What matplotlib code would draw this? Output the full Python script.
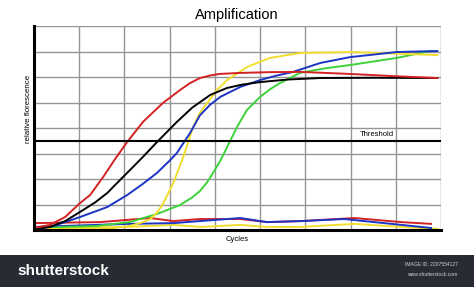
import matplotlib.pyplot as plt
from matplotlib.patches import Rectangle

plt.rcParams['font.family'] = ['Liberation Sans', 'DejaVu Sans']

# amplification curves (x in cycles grid units, y in fluorescence grid units)
red_x = [0, 0.35, 0.69, 1.02, 1.24, 1.53, 1.8, 2.06, 2.41, 2.85, 3.23, 3.45, 3.67, 3.9, 4.1, 4.56, 5.2, 5.88, 6.99, 8.0, 8.92]
red_y = [0.08, 0.2, 0.51, 1.06, 1.37, 2.08, 2.8, 3.45, 4.24, 4.98, 5.49, 5.76, 5.96, 6.06, 6.12, 6.16, 6.19, 6.2, 6.12, 6.03, 5.96]

black_x = [0, 0.35, 0.69, 1.02, 1.35, 1.62, 1.79, 2.06, 2.4, 2.72, 3.16, 3.5, 3.9, 4.27, 4.6, 5.0, 5.6, 6.33, 7.5, 8.92]
black_y = [0.04, 0.12, 0.35, 0.71, 1.08, 1.45, 1.76, 2.24, 2.85, 3.45, 4.24, 4.8, 5.3, 5.57, 5.7, 5.8, 5.9, 5.96, 5.97, 5.96]

blue_x = [0, 0.35, 0.69, 1.02, 1.62, 2.06, 2.4, 2.72, 3.0, 3.16, 3.3, 3.45, 3.67, 3.9, 4.12, 4.56, 5.0, 5.35, 5.73, 6.33, 6.99, 8.03, 8.92]
blue_y = [0.04, 0.12, 0.31, 0.51, 0.9, 1.37, 1.8, 2.24, 2.72, 3.02, 3.4, 3.8, 4.5, 4.92, 5.22, 5.61, 5.88, 6.05, 6.2, 6.55, 6.78, 6.98, 7.02]

yellow_x = [0, 1.02, 1.75, 2.12, 2.4, 2.57, 2.72, 2.85, 3.08, 3.3, 3.52, 3.67, 3.83, 4.05, 4.27, 4.71, 5.22, 5.88, 6.99, 8.92]
yellow_y = [0.04, 0.04, 0.08, 0.16, 0.3, 0.43, 0.68, 1.02, 1.84, 2.86, 4.04, 4.6, 4.98, 5.5, 5.88, 6.39, 6.75, 6.94, 6.98, 6.86]

green_x = [0, 0.64, 1.39, 2.12, 2.72, 3.23, 3.5, 3.67, 3.82, 3.96, 4.12, 4.27, 4.49, 4.71, 5.0, 5.22, 5.44, 5.88, 6.4, 6.99, 8.03, 8.76]
green_y = [0.04, 0.12, 0.16, 0.31, 0.63, 0.98, 1.28, 1.53, 1.85, 2.24, 2.72, 3.25, 4.04, 4.71, 5.22, 5.52, 5.76, 6.16, 6.33, 6.47, 6.75, 7.02]

# baseline (negative) curves
red_base_x = [0, 1.46, 2.57, 3.08, 3.67, 4.56, 5.15, 5.91, 7.08, 8.12, 8.78]
red_base_y = [0.27, 0.31, 0.47, 0.35, 0.43, 0.43, 0.31, 0.35, 0.47, 0.31, 0.24]

blue_base_x = [0, 2.06, 3.08, 4.56, 5.15, 5.91, 6.86, 7.74, 8.78]
blue_base_y = [0.12, 0.24, 0.27, 0.47, 0.31, 0.35, 0.43, 0.27, 0.08]

yellow_base_x = [0, 2.06, 3.08, 3.67, 4.56, 5.15, 5.91, 7.08, 8.12, 8.92]
yellow_base_y = [0.08, 0.12, 0.2, 0.12, 0.2, 0.12, 0.12, 0.24, 0.12, 0.04]

threshold = 3.5

fig = plt.figure(figsize=(4.74, 2.87), dpi=100)
ax = fig.add_axes([0.0717, 0.1986, 0.8587, 0.7108])

ax.set_xlim(0, 9)
ax.set_ylim(0, 8)
ax.set_xticks(range(10))
ax.set_yticks(range(9))
ax.grid(True, color='#959595', lw=1)
ax.tick_params(length=0, labelbottom=False, labelleft=False)
for side in ['top', 'right']:
    ax.spines[side].set_visible(False)
for side in ['left', 'bottom']:
    ax.spines[side].set_linewidth(2.2)
    ax.spines[side].set_zorder(5)

lw = 1.4
ax.plot(yellow_base_x, yellow_base_y, color='#f2de2e', lw=lw)
ax.plot(red_base_x, red_base_y, color='#d42222', lw=lw)
ax.plot(blue_base_x, blue_base_y, color='#1c35c4', lw=lw)

ax.plot(green_x, green_y, color='#3ed23a', lw=lw)
ax.plot(yellow_x, yellow_y, color='#f2de2e', lw=lw)
ax.plot(blue_x, blue_y, color='#1c35c4', lw=lw)
ax.plot(black_x, black_y, color='black', lw=lw)
ax.plot(red_x, red_y, color='#d42222', lw=lw)

ax.axhline(threshold, color='black', lw=1.5, zorder=4)
ax.text(7.59, threshold + 0.12, 'Threshold', fontsize=5.5, ha='center', va='bottom')

fig.text(0.5, 0.948, 'Amplification', fontsize=10.5, ha='center', va='center')
fig.text(0.5, 0.165, 'Cycles', fontsize=5.5, ha='center', va='center')
fig.text(0.06, 0.62, 'relative florescence', fontsize=5.7, rotation=90,
         ha='center', va='center')

# stock banner
fig.patches.append(Rectangle((0, 0), 1, 0.1115, transform=fig.transFigure,
                             facecolor='#272b33', edgecolor='none'))
fig.text(0.036, 0.056, 'shutterstock', fontsize=11, fontweight='bold',
         color='white', ha='left', va='center')
fig.text(0.965, 0.077, 'IMAGE ID: 2207554127', fontsize=3.6, color='#d0d0d0',
         ha='right', va='center')
fig.text(0.965, 0.042, 'www.shutterstock.com', fontsize=3.6, color='#d0d0d0',
         ha='right', va='center')

fig.savefig('out.png', dpi=100)
